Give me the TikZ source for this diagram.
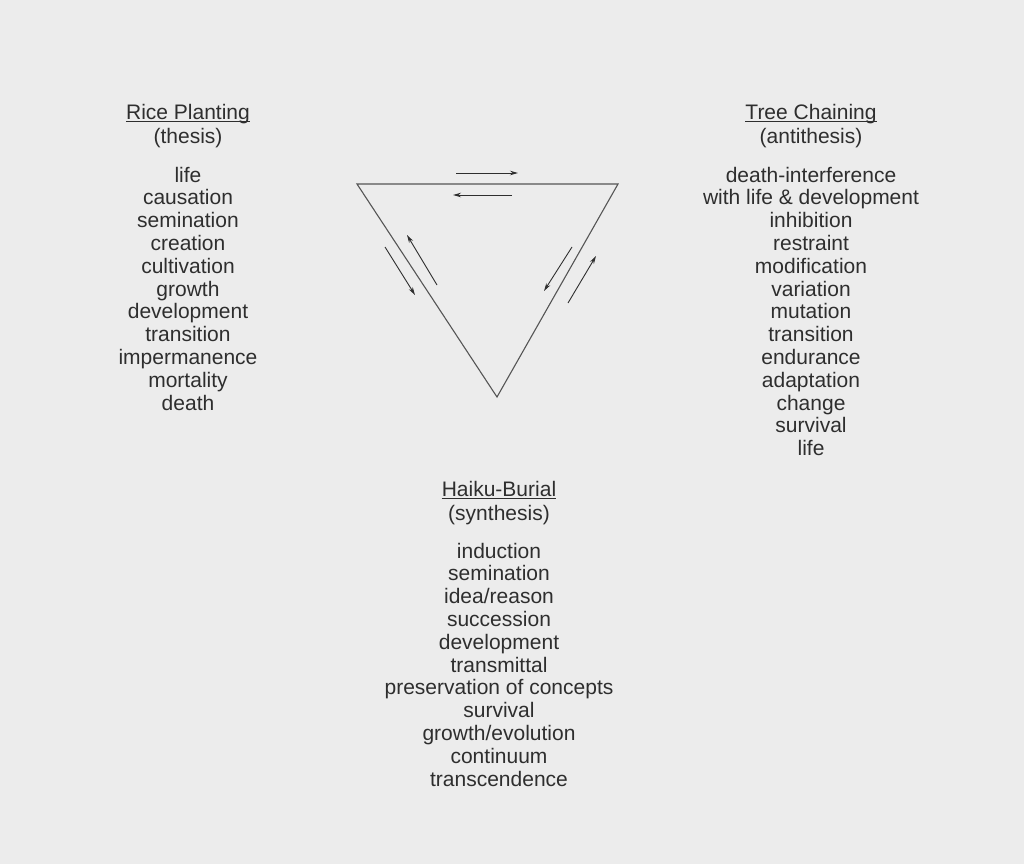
\documentclass[tikz,border=0pt]{standalone}
\usepackage{fontspec}
\setmainfont{Liberation Sans}
\usetikzlibrary{arrows.meta}
\definecolor{bg}{HTML}{ECECEC}
\definecolor{ink}{HTML}{2E2E2E}
\definecolor{tri}{HTML}{555555}
\begin{document}
\begin{tikzpicture}[x=1pt,y=-1pt,
  txt/.style={anchor=base,inner sep=0pt,text=ink,font=\fontsize{21}{23}\selectfont},
  uline/.style={draw=ink,line width=1.2pt},
  side/.style={draw=tri,line width=1.1pt,line join=miter},
  flow/.style={draw=ink,line width=0.9pt,-{Stealth[length=8pt,width=4.5pt]}}]
\fill[bg] (0,0) rectangle (1024,864);
\useasboundingbox (0,0) rectangle (1024,864);

% headings
\node[txt] (h1) at (188,119) {Rice Planting};
\node[txt] (s1) at (188,143) {(thesis)};
\node[txt] (h2) at (811,119) {Tree Chaining};
\node[txt] (s2) at (811,143) {(antithesis)};
\node[txt] (h3) at (499,496) {Haiku-Burial};
\node[txt] (s3) at (499,520) {(synthesis)};
\foreach \h in {h1,h2,h3}
  \draw[uline] ([yshift=-2.5pt]\h.base west) -- ([yshift=-2.5pt]\h.base east);

% lists
\foreach \w [count=\i] in {life,causation,semination,creation,cultivation,growth,development,transition,impermanence,mortality,death}
  \node[txt] (L\i) at (188,{182+(\i-1)*22.8}) {\w};
\foreach \w [count=\i] in {death-interference,with life \& development,inhibition,restraint,modification,variation,mutation,transition,endurance,adaptation,change,survival,life}
  \node[txt] (R\i) at (811,{182+(\i-1)*22.8}) {\w};
\foreach \w [count=\i] in {induction,semination,idea/reason,succession,development,transmittal,preservation of concepts,survival,growth/evolution,continuum,transcendence}
  \node[txt] (B\i) at (499,{558+(\i-1)*22.8}) {\w};

% triangle
\coordinate (A) at (357,184);
\coordinate (B) at (618,184);
\coordinate (C) at (497,397);
\draw[side] (A) -- (B) -- (C) -- cycle;

% arrows
\coordinate (t1s) at (456,173); \coordinate (t1e) at (518,173);
\coordinate (t2s) at (512,195); \coordinate (t2e) at (453,195);
\coordinate (l1s) at (437,285); \coordinate (l1e) at (407,235);
\coordinate (l2s) at (385,247); \coordinate (l2e) at (415,295);
\coordinate (r1s) at (572,247); \coordinate (r1e) at (544,291);
\coordinate (r2s) at (568,303); \coordinate (r2e) at (596,256);
\draw[flow] (t1s) -- (t1e);
\draw[flow] (t2s) -- (t2e);
\draw[flow] (l1s) -- (l1e);
\draw[flow] (l2s) -- (l2e);
\draw[flow] (r1s) -- (r1e);
\draw[flow] (r2s) -- (r2e);
\end{tikzpicture}
\end{document}
